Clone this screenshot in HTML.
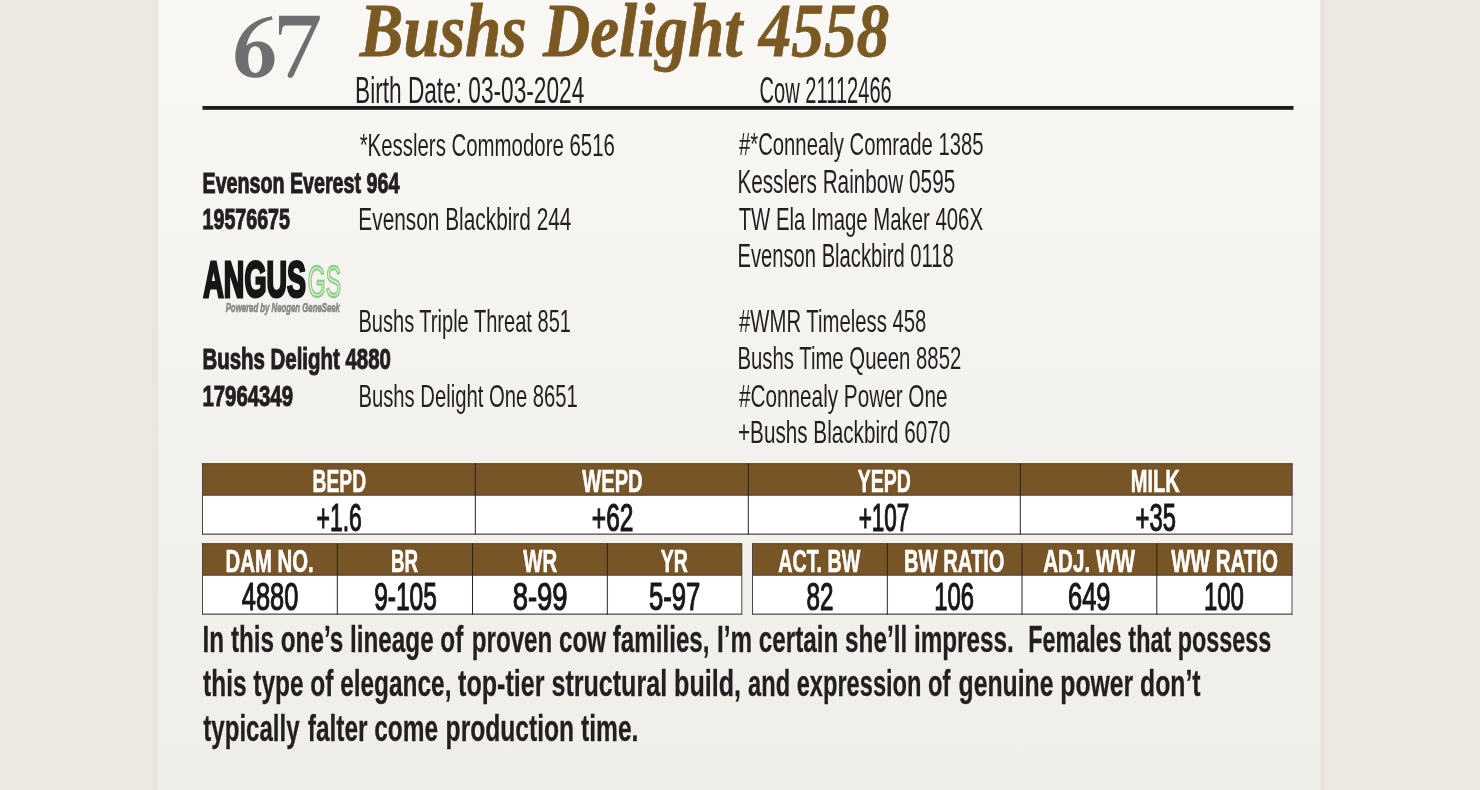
<!DOCTYPE html>
<html><head><meta charset="utf-8">
<style>
html,body{margin:0;padding:0;background:#ece8e2;width:1480px;height:790px;overflow:hidden}
svg{display:block;will-change:transform}
</style></head><body>
<svg width="1480" height="790" viewBox="0 0 1480 790">
<defs>
<linearGradient id="pg" x1="0" y1="0" x2="0" y2="1">
<stop offset="0" stop-color="#f9f8f5"/><stop offset="0.5" stop-color="#f4f2ee"/><stop offset="1" stop-color="#f0eee9"/>
</linearGradient>
<filter id="b5" x="-5%" y="-20%" width="110%" height="140%"><feGaussianBlur stdDeviation="0.45"/></filter>
<filter id="b7" x="-5%" y="-50%" width="110%" height="200%"><feGaussianBlur stdDeviation="0.6"/></filter>
</defs>
<rect x="0" y="0" width="1480" height="790" fill="#ece8e2"/>
<rect x="152" y="0" width="6.3" height="790" fill="#e9e5df"/>
<rect x="158.3" y="0" width="1162" height="790" fill="url(#pg)"/>
<rect x="1320.3" y="0" width="3.7" height="790" fill="#e9e4de"/>
<rect x="1324" y="0" width="3.8" height="790" fill="#efe7e0"/>
<!-- 67 -->
<path fill="#6e6f71" fill-rule="evenodd" d="M271.8 16.2 C 252 19 236.5 33 235.3 55.5 C 234.8 70 243.5 77.8 255 77.8 C 267.5 77.8 274.6 69.5 274.6 59 C 274.6 48.5 267.5 41.4 258.5 41.4 C 253 41.4 249 43.3 246.3 45.8 C 249.5 31.5 258.5 22.5 272.6 19.6 Z M 255.2 46.2 C 259.8 46.2 262.2 51.5 262.2 59.8 C 262.2 68 259.8 72.9 255.3 72.9 C 250.6 72.9 248.2 67.5 248.2 59.5 C 248.2 51.2 250.6 46.2 255.2 46.2 Z"/>
<path fill="#6e6f71" d="M279 15.8 L319.8 15.8 L319.8 19.2 L293.6 75.6 C 292.6 77.6 291 78.2 289.4 77.8 C 287.6 77.2 287.2 75.6 288 73.8 L311.8 25.4 L286 25.4 C 283.6 25.4 282.6 26.6 282.2 29 L281.2 34.8 L279 34.8 Z"/>
<!-- rule -->
<rect x="202.5" y="106" width="1091" height="3.8" fill="#1e1c1c"/>
<!-- table 1 -->
<g>
<rect x="202" y="463.3" width="1090.5" height="32" fill="#775527"/>
<rect x="202" y="463.3" width="1090.5" height="1" fill="#5e4320"/>
<rect x="202" y="494.8" width="1090.5" height="1" fill="#3f2b12"/>
<rect x="202" y="495.8" width="1090.5" height="38" fill="#ffffff"/>
<rect x="202" y="533.5" width="1090.5" height="1.3" fill="#555353"/>
<rect x="202" y="463.3" width="1" height="71.5" fill="#4a4646"/>
<rect x="1291.5" y="463.3" width="1" height="71.5" fill="#4a4646"/>
<rect x="474.8" y="463.3" width="1" height="71.5" fill="#2a2222"/>
<rect x="747.8" y="463.3" width="1" height="71.5" fill="#2a2222"/>
<rect x="1019.8" y="463.3" width="1" height="71.5" fill="#2a2222"/>
</g>
<!-- table 2 left -->
<g>
<rect x="202" y="543.3" width="540" height="32" fill="#775527"/>
<rect x="202" y="543.3" width="540" height="1" fill="#5e4320"/>
<rect x="202" y="574.8" width="540" height="1" fill="#3f2b12"/>
<rect x="202" y="575.8" width="540" height="38" fill="#ffffff"/>
<rect x="202" y="613.5" width="540" height="1.3" fill="#555353"/>
<rect x="202" y="543.3" width="1" height="71.5" fill="#4a4646"/>
<rect x="741.3" y="543.3" width="1" height="71.5" fill="#4a4646"/>
<rect x="336.8" y="543.3" width="1" height="71.5" fill="#2a2222"/>
<rect x="472" y="543.3" width="1" height="71.5" fill="#2a2222"/>
<rect x="606.8" y="543.3" width="1" height="71.5" fill="#2a2222"/>
</g>
<!-- table 2 right -->
<g>
<rect x="752" y="543.3" width="540.5" height="32" fill="#775527"/>
<rect x="752" y="543.3" width="540.5" height="1" fill="#5e4320"/>
<rect x="752" y="574.8" width="540.5" height="1" fill="#3f2b12"/>
<rect x="752" y="575.8" width="540.5" height="38" fill="#ffffff"/>
<rect x="752" y="613.5" width="540.5" height="1.3" fill="#555353"/>
<rect x="752" y="543.3" width="1" height="71.5" fill="#4a4646"/>
<rect x="1291.5" y="543.3" width="1" height="71.5" fill="#4a4646"/>
<rect x="886.8" y="543.3" width="1" height="71.5" fill="#2a2222"/>
<rect x="1021.5" y="543.3" width="1" height="71.5" fill="#2a2222"/>
<rect x="1156.3" y="543.3" width="1" height="71.5" fill="#2a2222"/>
</g>
<text stroke="#7b5922" stroke-width="0.7" vector-effect="non-scaling-stroke" transform="translate(359.87 56.45) scale(0.8494 1)" font-family='"Liberation Serif"' font-weight="bold" font-style="italic" font-size="76.80" fill="#7b5922" xml:space="preserve">Bushs Delight 4558</text>
<text transform="translate(355.03 102.80) scale(0.6275 1)" font-family='"Liberation Sans"' font-weight="normal" font-style="normal" font-size="36.12" fill="#231f20" xml:space="preserve">Birth Date: 03-03-2024</text>
<text transform="translate(759.56 102.80) scale(0.5565 1)" font-family='"Liberation Sans"' font-weight="normal" font-style="normal" font-size="36.12" fill="#231f20" xml:space="preserve">Cow 21112466</text>
<text stroke="#141414" stroke-width="2.4" vector-effect="non-scaling-stroke" filter="url(#b5)" transform="translate(203.36 297.00) scale(0.5627 1)" font-family='"Liberation Sans"' font-weight="bold" font-style="normal" font-size="50.49" fill="#141414" xml:space="preserve">ANGUS</text>
<text stroke="#8ccf86" stroke-width="1.8" vector-effect="non-scaling-stroke" filter="url(#b5)" transform="translate(307.82 297.30) scale(0.5236 1)" font-family='"Liberation Sans"' font-weight="normal" font-style="normal" font-size="43.95" fill="none" xml:space="preserve">GS</text>
<text stroke="#8a8a8a" stroke-width="0.6" vector-effect="non-scaling-stroke" filter="url(#b7)" transform="translate(225.68 312.00) scale(0.5771 1)" font-family='"Liberation Sans"' font-weight="bold" font-style="italic" font-size="13.51" fill="#8a8a8a" xml:space="preserve">Powered by Neogen GeneSeek</text>
<text transform="translate(359.68 155.50) scale(0.6404 1)" font-family='"Liberation Sans"' font-weight="normal" font-style="normal" font-size="31.86" fill="#231f20" xml:space="preserve">*Kesslers Commodore 6516</text>
<text stroke="#231f20" stroke-width="0.9" vector-effect="non-scaling-stroke" transform="translate(202.52 192.95) scale(0.6750 1)" font-family='"Liberation Sans"' font-weight="bold" font-style="normal" font-size="29.16" fill="#231f20" xml:space="preserve">Evenson Everest 964</text>
<text stroke="#231f20" stroke-width="0.9" vector-effect="non-scaling-stroke" transform="translate(202.52 229.25) scale(0.6714 1)" font-family='"Liberation Sans"' font-weight="bold" font-style="normal" font-size="29.30" fill="#231f20" xml:space="preserve">19576675</text>
<text transform="translate(358.37 229.70) scale(0.6541 1)" font-family='"Liberation Sans"' font-weight="normal" font-style="normal" font-size="31.86" fill="#231f20" xml:space="preserve">Evenson Blackbird 244</text>
<text transform="translate(739.00 155.40) scale(0.6314 1)" font-family='"Liberation Sans"' font-weight="normal" font-style="normal" font-size="32.14" fill="#231f20" xml:space="preserve">#*Connealy Comrade 1385</text>
<text transform="translate(737.38 193.00) scale(0.6367 1)" font-family='"Liberation Sans"' font-weight="normal" font-style="normal" font-size="32.57" fill="#231f20" xml:space="preserve">Kesslers Rainbow 0595</text>
<text transform="translate(738.68 229.80) scale(0.6310 1)" font-family='"Liberation Sans"' font-weight="normal" font-style="normal" font-size="32.28" fill="#231f20" xml:space="preserve">TW Ela Image Maker 406X</text>
<text transform="translate(737.42 267.00) scale(0.6204 1)" font-family='"Liberation Sans"' font-weight="normal" font-style="normal" font-size="32.57" fill="#231f20" xml:space="preserve">Evenson Blackbird 0118</text>
<text transform="translate(358.43 331.70) scale(0.6215 1)" font-family='"Liberation Sans"' font-weight="normal" font-style="normal" font-size="32.28" fill="#231f20" xml:space="preserve">Bushs Triple Threat 851</text>
<text stroke="#231f20" stroke-width="0.9" vector-effect="non-scaling-stroke" transform="translate(202.47 368.75) scale(0.7009 1)" font-family='"Liberation Sans"' font-weight="bold" font-style="normal" font-size="29.16" fill="#231f20" xml:space="preserve">Bushs Delight 4880</text>
<text stroke="#231f20" stroke-width="0.9" vector-effect="non-scaling-stroke" transform="translate(202.48 406.15) scale(0.7017 1)" font-family='"Liberation Sans"' font-weight="bold" font-style="normal" font-size="29.01" fill="#231f20" xml:space="preserve">17964349</text>
<text transform="translate(358.42 406.60) scale(0.6469 1)" font-family='"Liberation Sans"' font-weight="normal" font-style="normal" font-size="31.29" fill="#231f20" xml:space="preserve">Bushs Delight One 8651</text>
<text transform="translate(739.00 332.30) scale(0.6322 1)" font-family='"Liberation Sans"' font-weight="normal" font-style="normal" font-size="32.14" fill="#231f20" xml:space="preserve">#WMR Timeless 458</text>
<text transform="translate(737.41 369.30) scale(0.6361 1)" font-family='"Liberation Sans"' font-weight="normal" font-style="normal" font-size="32.00" fill="#231f20" xml:space="preserve">Bushs Time Queen 8852</text>
<text transform="translate(739.00 406.70) scale(0.6627 1)" font-family='"Liberation Sans"' font-weight="normal" font-style="normal" font-size="31.29" fill="#231f20" xml:space="preserve">#Connealy Power One</text>
<text transform="translate(738.03 442.70) scale(0.6642 1)" font-family='"Liberation Sans"' font-weight="normal" font-style="normal" font-size="31.15" fill="#231f20" xml:space="preserve">+Bushs Blackbird 6070</text>
<text stroke="#ffffff" stroke-width="0.5" vector-effect="non-scaling-stroke" transform="translate(312.44 492.15) scale(0.6289 1)" font-family='"Liberation Sans"' font-weight="bold" font-style="normal" font-size="30.72" fill="#ffffff" xml:space="preserve">BEPD</text>
<text stroke="#ffffff" stroke-width="0.5" vector-effect="non-scaling-stroke" transform="translate(582.25 492.15) scale(0.6554 1)" font-family='"Liberation Sans"' font-weight="bold" font-style="normal" font-size="30.72" fill="#ffffff" xml:space="preserve">WEPD</text>
<text stroke="#ffffff" stroke-width="0.5" vector-effect="non-scaling-stroke" transform="translate(857.75 492.15) scale(0.6333 1)" font-family='"Liberation Sans"' font-weight="bold" font-style="normal" font-size="30.72" fill="#ffffff" xml:space="preserve">YEPD</text>
<text stroke="#ffffff" stroke-width="0.5" vector-effect="non-scaling-stroke" transform="translate(1130.80 492.15) scale(0.6530 1)" font-family='"Liberation Sans"' font-weight="bold" font-style="normal" font-size="30.72" fill="#ffffff" xml:space="preserve">MILK</text>
<text stroke="#1a1718" stroke-width="1.0" vector-effect="non-scaling-stroke" transform="translate(316.52 530.50) scale(0.5946 1)" font-family='"Liberation Sans"' font-weight="normal" font-style="normal" font-size="38.68" fill="#1a1718" xml:space="preserve">+1.6</text>
<text stroke="#1a1718" stroke-width="1.0" vector-effect="non-scaling-stroke" transform="translate(591.85 530.50) scale(0.6347 1)" font-family='"Liberation Sans"' font-weight="normal" font-style="normal" font-size="38.68" fill="#1a1718" xml:space="preserve">+62</text>
<text stroke="#1a1718" stroke-width="1.0" vector-effect="non-scaling-stroke" transform="translate(858.65 530.50) scale(0.5815 1)" font-family='"Liberation Sans"' font-weight="normal" font-style="normal" font-size="38.68" fill="#1a1718" xml:space="preserve">+107</text>
<text stroke="#1a1718" stroke-width="1.0" vector-effect="non-scaling-stroke" transform="translate(1135.59 530.50) scale(0.6138 1)" font-family='"Liberation Sans"' font-weight="normal" font-style="normal" font-size="38.68" fill="#1a1718" xml:space="preserve">+35</text>
<text stroke="#ffffff" stroke-width="0.5" vector-effect="non-scaling-stroke" transform="translate(225.48 572.05) scale(0.6632 1)" font-family='"Liberation Sans"' font-weight="bold" font-style="normal" font-size="30.72" fill="#ffffff" xml:space="preserve">DAM NO.</text>
<text stroke="#ffffff" stroke-width="0.5" vector-effect="non-scaling-stroke" transform="translate(390.98 572.05) scale(0.6115 1)" font-family='"Liberation Sans"' font-weight="bold" font-style="normal" font-size="30.72" fill="#ffffff" xml:space="preserve">BR</text>
<text stroke="#ffffff" stroke-width="0.5" vector-effect="non-scaling-stroke" transform="translate(523.25 572.05) scale(0.6621 1)" font-family='"Liberation Sans"' font-weight="bold" font-style="normal" font-size="30.72" fill="#ffffff" xml:space="preserve">WR</text>
<text stroke="#ffffff" stroke-width="0.5" vector-effect="non-scaling-stroke" transform="translate(660.75 572.05) scale(0.6345 1)" font-family='"Liberation Sans"' font-weight="bold" font-style="normal" font-size="30.72" fill="#ffffff" xml:space="preserve">YR</text>
<text stroke="#ffffff" stroke-width="0.5" vector-effect="non-scaling-stroke" transform="translate(778.34 572.05) scale(0.6409 1)" font-family='"Liberation Sans"' font-weight="bold" font-style="normal" font-size="30.72" fill="#ffffff" xml:space="preserve">ACT. BW</text>
<text stroke="#ffffff" stroke-width="0.5" vector-effect="non-scaling-stroke" transform="translate(903.99 572.05) scale(0.6577 1)" font-family='"Liberation Sans"' font-weight="bold" font-style="normal" font-size="30.72" fill="#ffffff" xml:space="preserve">BW RATIO</text>
<text stroke="#ffffff" stroke-width="0.5" vector-effect="non-scaling-stroke" transform="translate(1043.13 572.05) scale(0.6727 1)" font-family='"Liberation Sans"' font-weight="bold" font-style="normal" font-size="30.72" fill="#ffffff" xml:space="preserve">ADJ. WW</text>
<text stroke="#ffffff" stroke-width="0.5" vector-effect="non-scaling-stroke" transform="translate(1171.15 572.05) scale(0.6694 1)" font-family='"Liberation Sans"' font-weight="bold" font-style="normal" font-size="30.72" fill="#ffffff" xml:space="preserve">WW RATIO</text>
<text stroke="#1a1718" stroke-width="1.0" vector-effect="non-scaling-stroke" transform="translate(241.80 610.20) scale(0.6642 1)" font-family='"Liberation Sans"' font-weight="normal" font-style="normal" font-size="38.26" fill="#1a1718" xml:space="preserve">4880</text>
<text stroke="#1a1718" stroke-width="1.0" vector-effect="non-scaling-stroke" transform="translate(374.15 610.20) scale(0.6412 1)" font-family='"Liberation Sans"' font-weight="normal" font-style="normal" font-size="38.26" fill="#1a1718" xml:space="preserve">9-105</text>
<text stroke="#1a1718" stroke-width="1.0" vector-effect="non-scaling-stroke" transform="translate(512.64 610.20) scale(0.7179 1)" font-family='"Liberation Sans"' font-weight="normal" font-style="normal" font-size="38.26" fill="#1a1718" xml:space="preserve">8-99</text>
<text stroke="#1a1718" stroke-width="1.0" vector-effect="non-scaling-stroke" transform="translate(648.90 610.20) scale(0.6719 1)" font-family='"Liberation Sans"' font-weight="normal" font-style="normal" font-size="38.26" fill="#1a1718" xml:space="preserve">5-97</text>
<text stroke="#1a1718" stroke-width="1.0" vector-effect="non-scaling-stroke" transform="translate(806.54 610.20) scale(0.6330 1)" font-family='"Liberation Sans"' font-weight="normal" font-style="normal" font-size="38.26" fill="#1a1718" xml:space="preserve">82</text>
<text stroke="#1a1718" stroke-width="1.0" vector-effect="non-scaling-stroke" transform="translate(934.31 610.20) scale(0.6228 1)" font-family='"Liberation Sans"' font-weight="normal" font-style="normal" font-size="38.26" fill="#1a1718" xml:space="preserve">106</text>
<text stroke="#1a1718" stroke-width="1.0" vector-effect="non-scaling-stroke" transform="translate(1068.01 610.20) scale(0.6646 1)" font-family='"Liberation Sans"' font-weight="normal" font-style="normal" font-size="38.26" fill="#1a1718" xml:space="preserve">649</text>
<text stroke="#1a1718" stroke-width="1.0" vector-effect="non-scaling-stroke" transform="translate(1203.90 610.20) scale(0.6266 1)" font-family='"Liberation Sans"' font-weight="normal" font-style="normal" font-size="38.26" fill="#1a1718" xml:space="preserve">100</text>
<text stroke="#231f20" stroke-width="0.25" vector-effect="non-scaling-stroke" transform="translate(202.61 652.08) scale(0.6734 1)" font-family='"Liberation Sans"' font-weight="bold" font-style="normal" font-size="36.05" fill="#231f20" xml:space="preserve">In this one’s lineage of</text>
<text stroke="#231f20" stroke-width="0.25" vector-effect="non-scaling-stroke" transform="translate(471.71 652.08) scale(0.6708 1)" font-family='"Liberation Sans"' font-weight="bold" font-style="normal" font-size="36.05" fill="#231f20" xml:space="preserve">proven cow families,</text>
<text stroke="#231f20" stroke-width="0.25" vector-effect="non-scaling-stroke" transform="translate(716.91 652.08) scale(0.6739 1)" font-family='"Liberation Sans"' font-weight="bold" font-style="normal" font-size="36.05" fill="#231f20" xml:space="preserve">I’m certain she’ll impress.</text>
<text stroke="#231f20" stroke-width="0.25" vector-effect="non-scaling-stroke" transform="translate(1028.26 652.08) scale(0.6489 1)" font-family='"Liberation Sans"' font-weight="bold" font-style="normal" font-size="36.05" fill="#231f20" xml:space="preserve">Females that possess</text>
<text stroke="#231f20" stroke-width="0.25" vector-effect="non-scaling-stroke" transform="translate(203.12 695.88) scale(0.6775 1)" font-family='"Liberation Sans"' font-weight="bold" font-style="normal" font-size="36.05" fill="#231f20" xml:space="preserve">this type of elegance,</text>
<text stroke="#231f20" stroke-width="0.25" vector-effect="non-scaling-stroke" transform="translate(458.12 695.88) scale(0.6958 1)" font-family='"Liberation Sans"' font-weight="bold" font-style="normal" font-size="36.05" fill="#231f20" xml:space="preserve">top-tier structural build,</text>
<text stroke="#231f20" stroke-width="0.25" vector-effect="non-scaling-stroke" transform="translate(748.06 695.88) scale(0.6562 1)" font-family='"Liberation Sans"' font-weight="bold" font-style="normal" font-size="36.05" fill="#231f20" xml:space="preserve">and expression of</text>
<text stroke="#231f20" stroke-width="0.25" vector-effect="non-scaling-stroke" transform="translate(958.55 695.88) scale(0.6869 1)" font-family='"Liberation Sans"' font-weight="bold" font-style="normal" font-size="36.05" fill="#231f20" xml:space="preserve">genuine power don’t</text>
<text stroke="#231f20" stroke-width="0.25" vector-effect="non-scaling-stroke" transform="translate(203.32 740.88) scale(0.6674 1)" font-family='"Liberation Sans"' font-weight="bold" font-style="normal" font-size="36.05" fill="#231f20" xml:space="preserve">typically</text>
<text stroke="#231f20" stroke-width="0.25" vector-effect="non-scaling-stroke" transform="translate(307.74 740.88) scale(0.6781 1)" font-family='"Liberation Sans"' font-weight="bold" font-style="normal" font-size="36.05" fill="#231f20" xml:space="preserve">falter come</text>
<text stroke="#231f20" stroke-width="0.25" vector-effect="non-scaling-stroke" transform="translate(445.59 740.88) scale(0.6832 1)" font-family='"Liberation Sans"' font-weight="bold" font-style="normal" font-size="36.05" fill="#231f20" xml:space="preserve">production time.</text>
</svg>
</body></html>
